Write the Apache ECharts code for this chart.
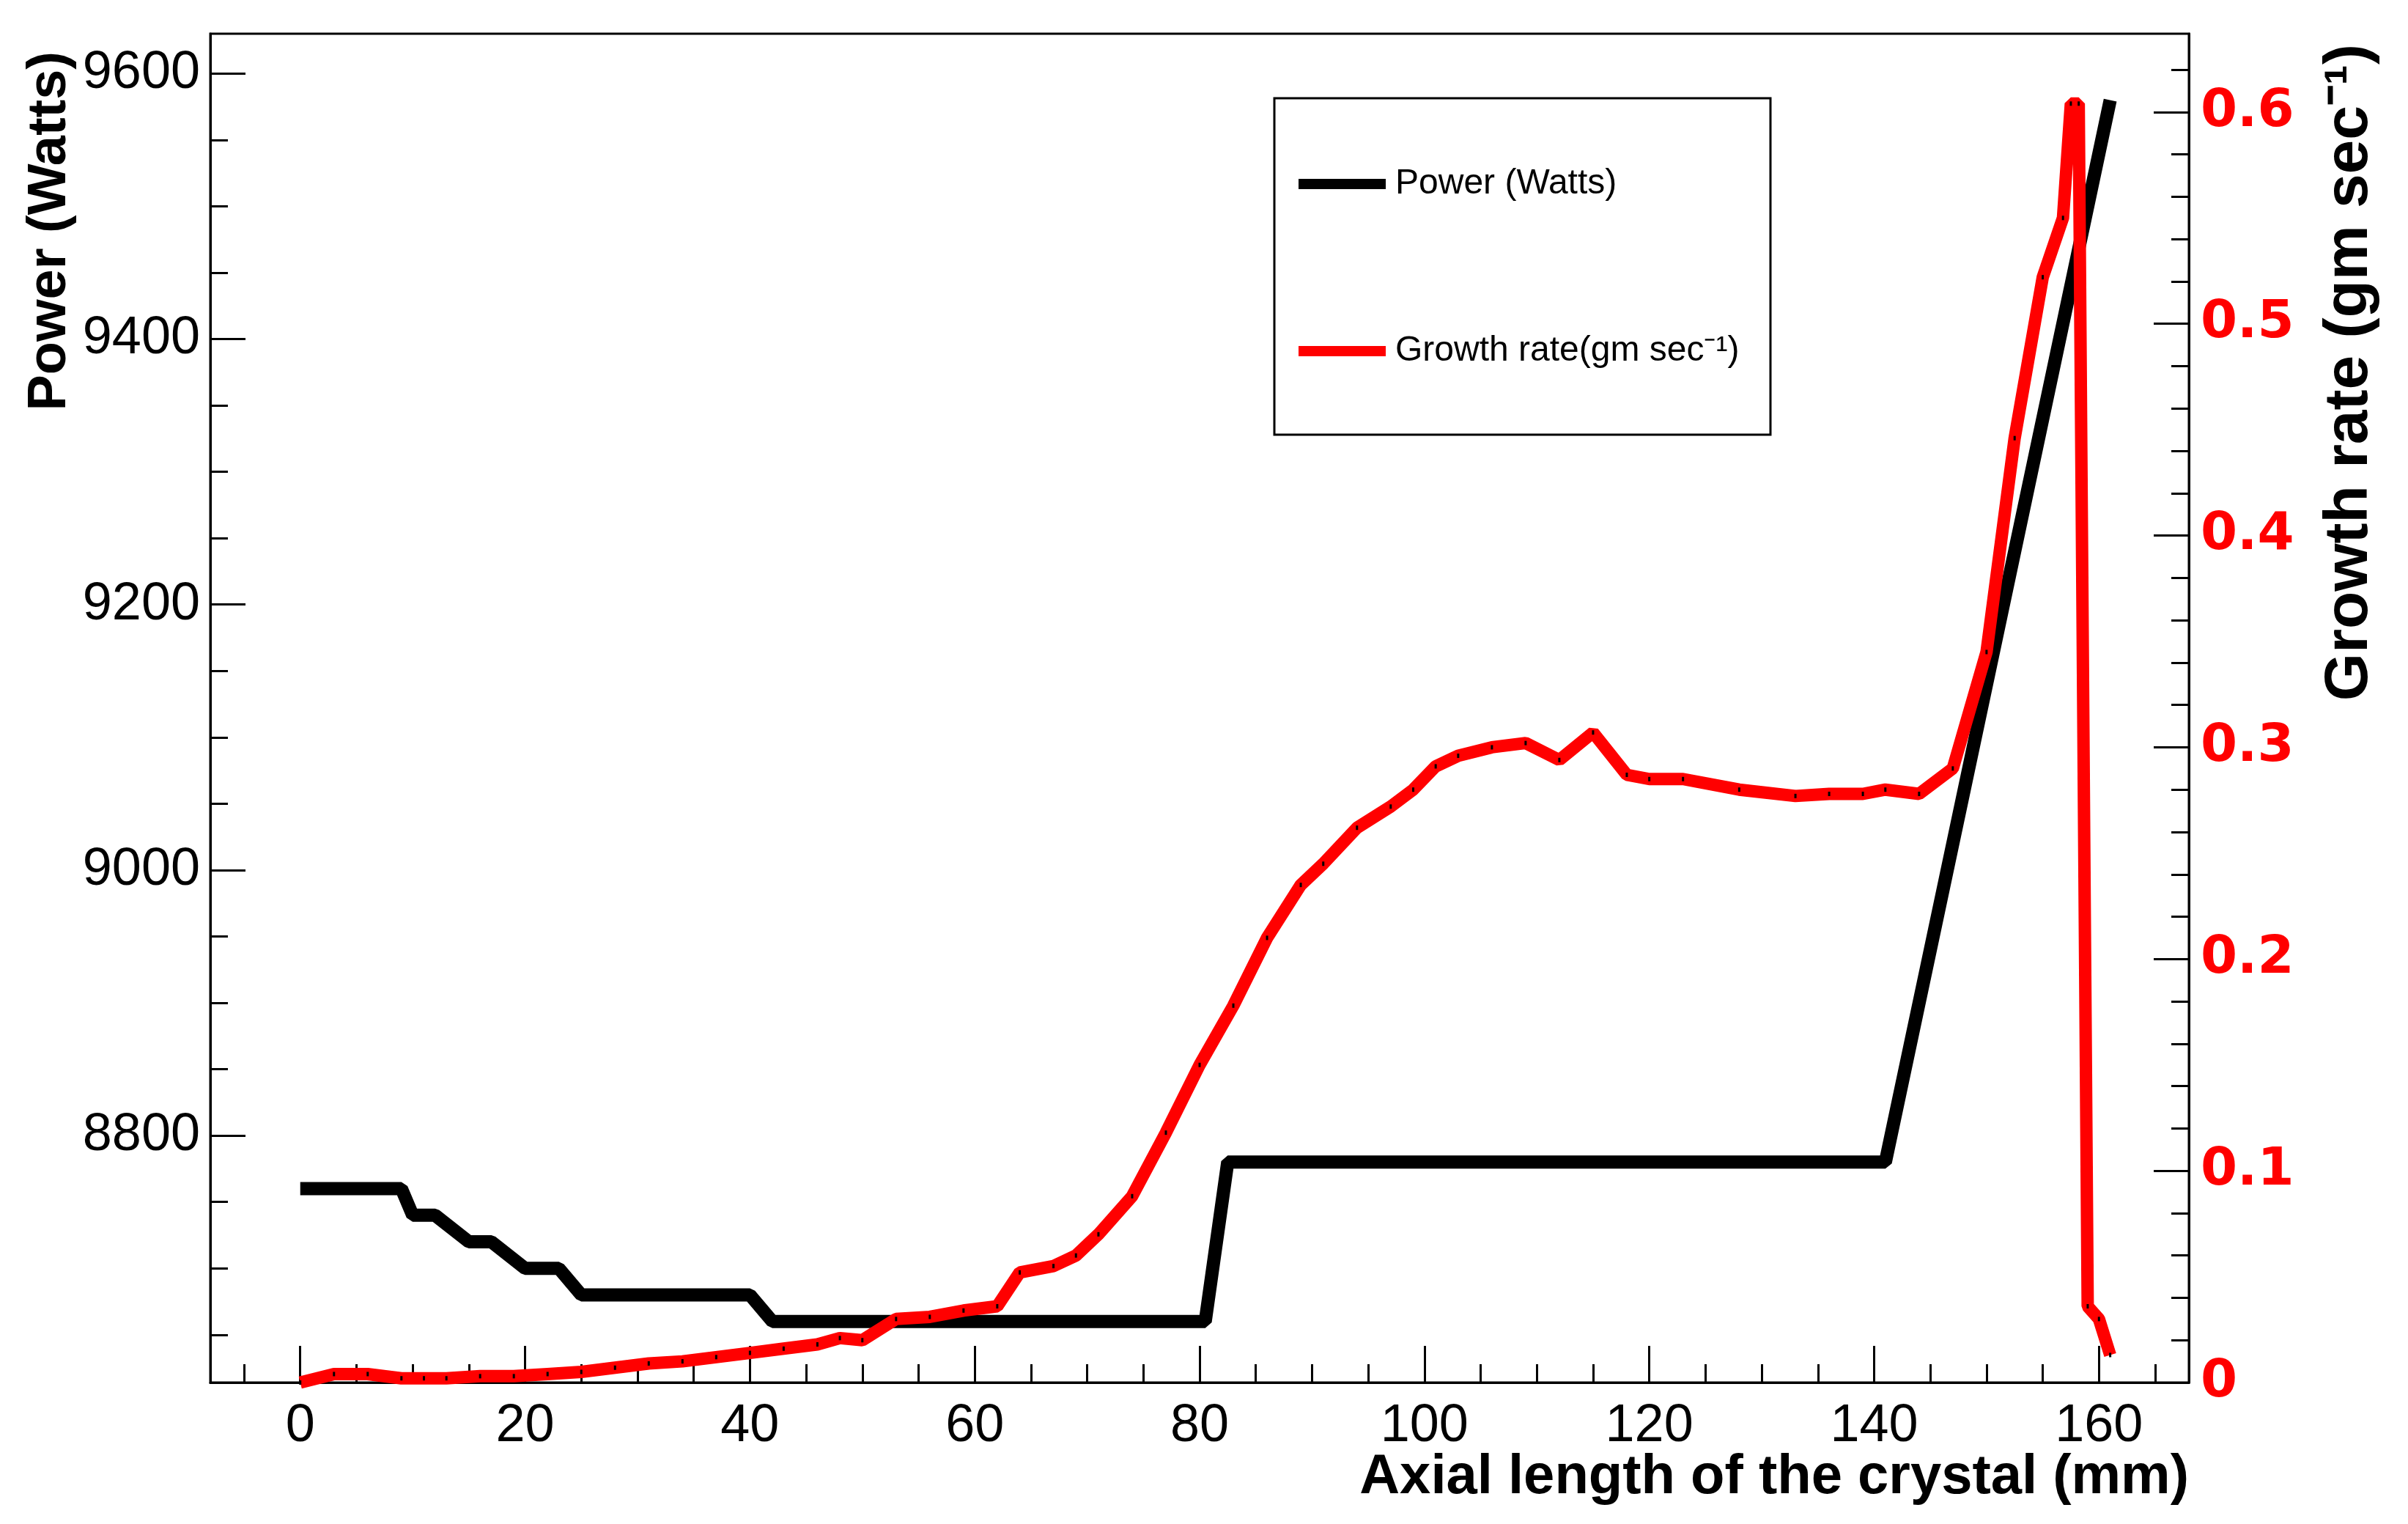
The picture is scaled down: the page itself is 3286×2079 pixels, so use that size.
<!DOCTYPE html>
<html>
<head>
<meta charset="utf-8">
<script src="https://cdn.jsdelivr.net/npm/echarts@6/dist/echarts.min.js"></script>
<style>html,body{margin:0;padding:0;background:#fff}#c{width:3286px;height:2079px}</style>
</head>
<body>
<div id="c"></div>
<script>
// power (Watts) vs axial length (mm)
const powerX = [0, 9, 10, 12, 15, 17, 20, 23, 25, 40, 42, 80.5, 82.5, 141, 161]
const powerY = [8760, 8760, 8740, 8740, 8720, 8720, 8700, 8700, 8680, 8680, 8660, 8660, 8780, 8780, 9580]
// growth rate (gm/sec) vs axial length
const growthX = [0, 3, 6, 9, 11, 13, 16, 19, 22, 25, 28, 31, 34, 37, 40, 43, 46, 48, 50, 53, 56, 59, 62, 64, 67, 69, 71, 74, 77, 80, 83, 86, 89, 91, 94, 97, 99, 101, 103, 106, 109, 112, 115, 118, 120, 123, 128, 133, 136, 139, 141, 144, 147, 150, 152.5, 155, 156.8, 157.5, 158.2, 159, 160, 161]
const growthY = [0, 0.004, 0.004, 0.002, 0.002, 0.002, 0.003, 0.003, 0.004, 0.005, 0.007, 0.009, 0.01, 0.012, 0.014, 0.016, 0.018, 0.021, 0.02, 0.03, 0.031, 0.034, 0.036, 0.052, 0.055, 0.06, 0.07, 0.088, 0.118, 0.15, 0.178, 0.21, 0.235, 0.245, 0.262, 0.272, 0.28, 0.291, 0.296, 0.3, 0.302, 0.294, 0.307, 0.287, 0.285, 0.285, 0.28, 0.277, 0.278, 0.278, 0.28, 0.278, 0.29, 0.345, 0.446, 0.522, 0.55, 0.604, 0.604, 0.036, 0.03, 0.013]
const xMajor = [0, 20, 40, 60, 80, 100, 120, 140, 160]
const xMinor = [-5, 5, 10, 15, 25, 30, 35, 45, 50, 55, 65, 70, 75, 85, 90, 95, 105, 110, 115, 125, 130, 135, 145, 150, 155, 165]
const powerMajor = [8800, 9000, 9200, 9400, 9600]
const powerMinor = [8650, 8700, 8750, 8850, 8900, 8950, 9050, 9100, 9150, 9250, 9300, 9350, 9450, 9500, 9550]
const growthMajor = [0, 0.1, 0.2, 0.3, 0.4, 0.5, 0.6]
const growthMinor = [0.02, 0.04, 0.06, 0.08, 0.12, 0.14, 0.16, 0.18, 0.22, 0.24, 0.26, 0.28, 0.32, 0.34, 0.36, 0.38, 0.42, 0.44, 0.46, 0.48, 0.52, 0.54, 0.56, 0.58, 0.62]

const font = 'Liberation Sans, Arial, sans-serif'
const line = { show: true, onZero: false, lineStyle: { color: '#000', width: 3 } }
const noLine = { show: false, onZero: false }

const chart = echarts.init(document.getElementById('c'))
chart.setOption({
  animation: false,
  grid: { left: 287, right: 299, top: 46, bottom: 193, show: true, borderColor: '#000', borderWidth: 3 },
  legend: {
    orient: 'vertical', left: 1767, top: 222, itemGap: 180, itemWidth: 119, itemHeight: 14, icon: 'rect',
    textStyle: { fontSize: 48, fontFamily: font, color: '#000', padding: [0, 0, 0, 8] },
    data: [
      { name: 'Power (Watts)', itemStyle: { color: '#000' } },
      { name: 'Growth rate(gm sec⁻¹)', itemStyle: { color: '#f00' } },
    ],
  },
  graphic: [
    { type: 'rect', shape: { x: 1739, y: 134, width: 677, height: 459 }, style: { fill: 'none', stroke: '#000', lineWidth: 3 } },
    { type: 'text', x: 69, y: 70, rotation: Math.PI / 2, style: { text: 'Power (Watts)', font: 'bold 74px ' + font, fill: '#000', align: 'right', verticalAlign: 'middle' } },
    { type: 'text', x: 3207, y: 60, rotation: Math.PI / 2, style: { text: 'Growth rate (gm sec⁻¹)', font: 'bold 84px ' + font, fill: '#000', align: 'right', verticalAlign: 'middle' } },
    { type: 'text', x: 2987, y: 2016, style: { text: 'Axial length of the crystal (mm)', font: 'bold 76px ' + font, fill: '#000', align: 'right', verticalAlign: 'middle' } },
  ],
  xAxis: [
    {
      type: 'value', min: -8, max: 168, position: 'bottom', axisLine: line, splitLine: { show: false },
      axisTick: { inside: true, length: 50, customValues: xMajor, lineStyle: { color: '#000', width: 3 } },
      axisLabel: { customValues: xMajor, margin: 24, fontSize: 72, fontFamily: font, color: '#000' },
    },
    {
      type: 'value', min: -8, max: 168, position: 'bottom', axisLine: noLine, splitLine: { show: false },
      axisTick: { inside: true, length: 25, customValues: xMinor, lineStyle: { color: '#000', width: 3 } },
      axisLabel: { show: false },
    },
  ],
  yAxis: [
    {
      type: 'value', min: 8614, max: 9630, position: 'left', axisLine: line, splitLine: { show: false },
      axisTick: { inside: true, length: 48, customValues: powerMajor, lineStyle: { color: '#000', width: 3 } },
      axisLabel: { customValues: powerMajor, margin: 14, fontSize: 72, fontFamily: font, color: '#000',
        formatter: (v) => String(Math.round(v)) },
    },
    {
      type: 'value', min: 8614, max: 9630, position: 'left', axisLine: noLine, splitLine: { show: false },
      axisTick: { inside: true, length: 24, customValues: powerMinor, lineStyle: { color: '#000', width: 3 } },
      axisLabel: { show: false },
    },
    {
      type: 'value', min: 0, max: 0.637, position: 'right', axisLine: line, splitLine: { show: false },
      axisTick: { inside: true, length: 48, customValues: growthMajor, lineStyle: { color: '#000', width: 3 } },
      axisLabel: { customValues: growthMajor, margin: 16, fontSize: 72, fontWeight: 'bold', fontFamily: 'DejaVu Sans, sans-serif', color: '#f00',
        formatter: (v) => (Math.round(v * 10) / 10).toString() },
    },
    {
      type: 'value', min: 0, max: 0.637, position: 'right', axisLine: noLine, splitLine: { show: false },
      axisTick: { inside: true, length: 24, customValues: growthMinor, lineStyle: { color: '#000', width: 3 } },
      axisLabel: { show: false },
    },
  ],
  series: [
    {
      name: 'Power (Watts)', type: 'line', xAxisIndex: 0, yAxisIndex: 0, symbol: 'none',
      lineStyle: { color: '#000', width: 18 }, itemStyle: { color: '#000' },
      data: powerX.map((x, i) => [x, powerY[i]]),
    },
    {
      name: 'Growth rate(gm sec⁻¹)', type: 'line', xAxisIndex: 0, yAxisIndex: 2, symbol: 'rect', symbolSize: [3, 6],
      lineStyle: { color: '#f00', width: 17 }, itemStyle: { color: '#000' },
      data: growthX.map((x, i) => [x, growthY[i]]),
    },
  ],
})
</script>
</body>
</html>
